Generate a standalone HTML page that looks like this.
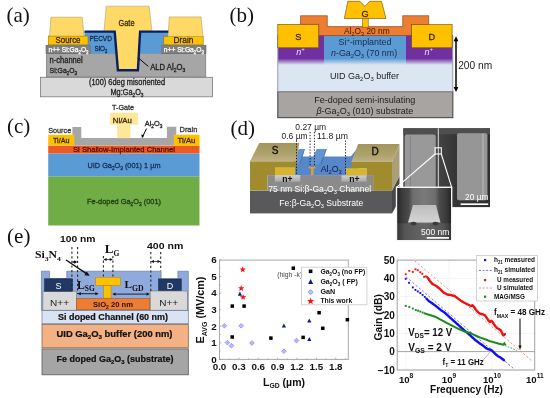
<!DOCTYPE html>
<html><head><meta charset="utf-8"><style>
html,body{margin:0;padding:0;background:#fff;width:550px;height:398px;overflow:hidden}
svg{display:block}
</style></head><body>
<svg width="550" height="398" viewBox="0 0 550 398">
<rect width="550" height="398" fill="#fff"/>
<text x="6.5" y="22" font-size="21" fill="#111" font-family='"Liberation Serif", "Times New Roman", serif'>(a)</text>
<rect x="40.5" y="77.3" width="172" height="19.5" fill="#D9D9D9" stroke="#7a7a7a" stroke-width="0.8"/>
<text x="127" y="85.3" font-size="8.2" fill="#222" font-family='"Liberation Sans", Arial, sans-serif' text-anchor="middle" textLength="76" lengthAdjust="spacingAndGlyphs" stroke="#222" stroke-width="0.3">(100) 6deg misoriented</text>
<text x="127" y="94.8" font-size="8.2" fill="#222" font-family='"Liberation Sans", Arial, sans-serif' text-anchor="middle" textLength="33" lengthAdjust="spacingAndGlyphs" stroke="#222" stroke-width="0.3">Mg:Ga<tspan dy="2.05" font-size="5.33">2</tspan><tspan dy="-2.05">O</tspan><tspan dy="2.05" font-size="5.33">3</tspan></text>
<rect x="46.3" y="53.5" width="159.5" height="23.4" fill="#A6A6A6" stroke="#6f6f6f" stroke-width="0.6"/>
<text x="49.6" y="63.4" font-size="8.2" fill="#222" font-family='"Liberation Sans", Arial, sans-serif' textLength="33" lengthAdjust="spacingAndGlyphs" stroke="#222" stroke-width="0.3">n-channel</text>
<text x="49.6" y="73.3" font-size="8.0" fill="#222" font-family='"Liberation Sans", Arial, sans-serif' textLength="27.5" lengthAdjust="spacingAndGlyphs" stroke="#222" stroke-width="0.3">Si:Ga<tspan dy="2.0" font-size="5.2">2</tspan><tspan dy="-2.0">O</tspan><tspan dy="2.0" font-size="5.2">3</tspan></text>
<polygon points="84.5,31.5 114.5,31.5 117.7,53.5 138,53.5 140,31.5 168,31.5 168,45 161.7,45 161.7,53.5 90.7,53.5 90.7,45 88,45 88,36 84.5,36" fill="#5B9BD5"/>
<rect x="46" y="45.2" width="44.7" height="8.5" fill="#7F7F7F" stroke="#5a5a5a" stroke-width="0.5"/>
<text x="48.5" y="52.3" font-size="6.8" fill="#fff" font-family='"Liberation Sans", Arial, sans-serif' textLength="40" lengthAdjust="spacingAndGlyphs" stroke="#fff" stroke-width="0.25">n++ Si:Ga<tspan dy="1.7" font-size="4.42">2</tspan><tspan dy="-1.7">O</tspan><tspan dy="1.7" font-size="4.42">3</tspan></text>
<rect x="48.2" y="36" width="39.8" height="8.8" fill="#FFC000" stroke="#8a6a00" stroke-width="0.5"/>
<text x="68" y="43.2" font-size="8.2" fill="#3a2a00" font-family='"Liberation Sans", Arial, sans-serif' text-anchor="middle" textLength="25" lengthAdjust="spacingAndGlyphs" stroke="#3a2a00" stroke-width="0.3">Source</text>
<polygon points="50.9,17.2 82.2,17.2 84,36 49.5,36" fill="#FFD966" stroke="#a09060" stroke-width="0.5" stroke-linejoin="miter"/>
<rect x="161.7" y="45.2" width="44.3" height="8.5" fill="#7F7F7F" stroke="#5a5a5a" stroke-width="0.5"/>
<text x="163.8" y="52.3" font-size="6.8" fill="#fff" font-family='"Liberation Sans", Arial, sans-serif' textLength="40" lengthAdjust="spacingAndGlyphs" stroke="#fff" stroke-width="0.25">n++ Si:Ga<tspan dy="1.7" font-size="4.42">2</tspan><tspan dy="-1.7">O</tspan><tspan dy="1.7" font-size="4.42">3</tspan></text>
<rect x="163.8" y="36.4" width="39.4" height="8.4" fill="#FFC000" stroke="#8a6a00" stroke-width="0.5"/>
<text x="183.5" y="43.4" font-size="8.2" fill="#3a2a00" font-family='"Liberation Sans", Arial, sans-serif' text-anchor="middle" textLength="20" lengthAdjust="spacingAndGlyphs" stroke="#3a2a00" stroke-width="0.3">Drain</text>
<polygon points="169.3,16.9 201,16.9 203,36.4 168,36.4" fill="#FFD966" stroke="#a09060" stroke-width="0.5" stroke-linejoin="miter"/>
<polygon points="106.2,6.2 149.1,6.2 152,31.5 140,31.5 138,70 118,70 114.5,31.5 104,31.5" fill="#FFD966" stroke="#a09060" stroke-width="0.5" stroke-linejoin="miter"/>
<polyline points="84.5,31.6 114.7,31.6 117.9,70.2 137.9,70.2 140.1,31.6 168.3,31.6" fill="none" stroke="#0B1F5E" stroke-width="2.4" stroke-linejoin="miter"/>
<text x="126.5" y="26.3" font-size="8.6" fill="#3a2a00" font-family='"Liberation Sans", Arial, sans-serif' text-anchor="middle" textLength="16" lengthAdjust="spacingAndGlyphs" stroke="#3a2a00" stroke-width="0.3">Gate</text>
<text x="100.7" y="41.2" font-size="7.6" fill="#0f2a55" font-family='"Liberation Sans", Arial, sans-serif' text-anchor="middle" textLength="22.5" lengthAdjust="spacingAndGlyphs" stroke="#0f2a55" stroke-width="0.3">PECVD</text>
<text x="100.9" y="50.6" font-size="7.6" fill="#0f2a55" font-family='"Liberation Sans", Arial, sans-serif' text-anchor="middle" textLength="13" lengthAdjust="spacingAndGlyphs" stroke="#0f2a55" stroke-width="0.3">SiO<tspan dy="1.9" font-size="4.94">2</tspan></text>
<line x1="139" y1="58.5" x2="148.3" y2="66.4" stroke="#000" stroke-width="1"/>
<text x="150.2" y="69.6" font-size="8.2" fill="#222" font-family='"Liberation Sans", Arial, sans-serif' textLength="35" lengthAdjust="spacingAndGlyphs" stroke="#222" stroke-width="0.3">ALD Al<tspan dy="2.05" font-size="5.33">2</tspan><tspan dy="-2.05">O</tspan><tspan dy="2.05" font-size="5.33">3</tspan></text>
<text x="229.5" y="22" font-size="21" fill="#111" font-family='"Liberation Serif", "Times New Roman", serif'>(b)</text>
<defs><linearGradient id="gpur" x1="0" y1="0" x2="0" y2="1"><stop offset="0" stop-color="#7030A0"/><stop offset="0.78" stop-color="#7030A0"/><stop offset="1" stop-color="#7030A0" stop-opacity="0"/></linearGradient><linearGradient id="gblu" x1="0" y1="0" x2="0" y2="1"><stop offset="0" stop-color="#5B9BD5"/><stop offset="0.78" stop-color="#5B9BD5"/><stop offset="1" stop-color="#5B9BD5" stop-opacity="0"/></linearGradient></defs>
<rect x="277.8" y="91.6" width="175" height="26" fill="#A8A4A2" stroke="#555" stroke-width="1.2"/>
<text x="314.2" y="102.5" font-size="9" fill="#222" font-family='"Liberation Sans", Arial, sans-serif'>Fe-doped semi-insulating</text>
<text x="316.4" y="113.5" font-size="9" fill="#222" font-family='"Liberation Sans", Arial, sans-serif'><tspan font-style="italic">β</tspan>-Ga<tspan dy="2.25" font-size="5.85">2</tspan><tspan dy="-2.25">O</tspan><tspan dy="2.25" font-size="5.85">3</tspan><tspan dy="-2.25"> (010) substrate</tspan></text>
<rect x="277.8" y="35.5" width="175" height="56.1" fill="#DCE6F2" stroke="#888" stroke-width="0.8"/>
<rect x="324" y="35.5" width="82" height="29.5" fill="url(#gblu)"/>
<rect x="278.2" y="35.5" width="45.8" height="29.5" fill="url(#gpur)"/>
<rect x="406" y="35.5" width="46.3" height="29.5" fill="url(#gpur)"/>
<text x="330.1" y="78.5" font-size="9" fill="#222" font-family='"Liberation Sans", Arial, sans-serif'>UID Ga<tspan dy="2.25" font-size="5.85">2</tspan><tspan dy="-2.25">O</tspan><tspan dy="2.25" font-size="5.85">3</tspan><tspan dy="-2.25"> buffer</tspan></text>
<text x="338.6" y="45.3" font-size="8.9" fill="#1a2a4a" font-family='"Liberation Sans", Arial, sans-serif'>Si<tspan dy="-3.38" font-size="5.79">+</tspan><tspan dy="3.38">-implanted</tspan></text>
<text x="331" y="55.6" font-size="8.9" fill="#1a2a4a" font-family='"Liberation Sans", Arial, sans-serif'><tspan font-style="italic">n</tspan>-Ga<tspan dy="2.23" font-size="5.79">2</tspan><tspan dy="-2.23">O</tspan><tspan dy="2.23" font-size="5.79">3</tspan><tspan dy="-2.23"> (70 nm)</tspan></text>
<polygon points="300.5,15.7 327.3,15.7 327.3,26.6 402.7,26.6 402.7,15.7 428.7,15.7 428.7,24.6 411.6,24.6 411.6,35.5 318.7,35.5 318.7,24.4 300.5,24.4" fill="#ED7D31" stroke="#7a3a10" stroke-width="0.6" stroke-linejoin="miter"/>
<rect x="277.8" y="24.4" width="40.9" height="23.4" fill="#FFC000" stroke="#6a4a00" stroke-width="0.6"/>
<rect x="411.6" y="24.6" width="40.5" height="23.2" fill="#FFC000" stroke="#6a4a00" stroke-width="0.6"/>
<text x="298.2" y="39.5" font-size="9.2" fill="#3a2a00" font-family='"Liberation Sans", Arial, sans-serif' text-anchor="middle" stroke="#3a2a00" stroke-width="0.3">S</text>
<text x="431.8" y="39.5" font-size="9.2" fill="#3a2a00" font-family='"Liberation Sans", Arial, sans-serif' text-anchor="middle" stroke="#3a2a00" stroke-width="0.3">D</text>
<text x="300.5" y="54.6" font-size="9" fill="#ece0f8" font-family='"Liberation Sans", Arial, sans-serif' text-anchor="middle" font-style="italic">n<tspan dy="-3.42" font-size="5.85">+</tspan></text>
<text x="428.8" y="54.6" font-size="9" fill="#ece0f8" font-family='"Liberation Sans", Arial, sans-serif' text-anchor="middle" font-style="italic">n<tspan dy="-3.42" font-size="5.85">+</tspan></text>
<text x="344" y="33.7" font-size="8.4" fill="#3a1a00" font-family='"Liberation Sans", Arial, sans-serif'>Al<tspan dy="2.1" font-size="5.46">2</tspan><tspan dy="-2.1">O</tspan><tspan dy="2.1" font-size="5.46">3</tspan><tspan dy="-2.1"> 20 nm</tspan></text>
<rect x="362.5" y="17.5" width="5.7" height="10" fill="#FFC000" stroke="#6a4a00" stroke-width="0.5"/>
<polygon points="347.8,1.3 359.9,1.3 365,6.4 369.5,1.3 381.5,1.3 386,18.5 344.3,18.5" fill="#FFC000" stroke="#6a4a00" stroke-width="0.6" stroke-linejoin="miter"/>
<text x="365" y="17.2" font-size="9.2" fill="#3a2a00" font-family='"Liberation Sans", Arial, sans-serif' text-anchor="middle" stroke="#3a2a00" stroke-width="0.3">G</text>
<line x1="456" y1="39.5" x2="456" y2="89" stroke="#000" stroke-width="1.5"/>
<polygon points="456,36.2 453.6,41.2 458.4,41.2" fill="#000"/>
<polygon points="456,92 453.6,87 458.4,87" fill="#000"/>
<text x="458.2" y="68.7" font-size="10.2" fill="#222" font-family='"Liberation Sans", Arial, sans-serif'>200 nm</text>
<text x="7" y="133" font-size="21" fill="#111" font-family='"Liberation Serif", "Times New Roman", serif'>(c)</text>
<rect x="48.2" y="176.3" width="151.3" height="49.2" fill="#70AD47"/>
<rect x="48.2" y="153.4" width="151.3" height="22.9" fill="#5B9BD5"/>
<rect x="48.2" y="145.6" width="151.3" height="7.8" fill="#EE5A24"/>
<text x="124" y="151.8" font-size="8" fill="#5a1000" font-family='"Liberation Sans", Arial, sans-serif' text-anchor="middle" textLength="102" lengthAdjust="spacingAndGlyphs" stroke="#5a1000" stroke-width="0.3">Si Shallow-Implanted Channel</text>
<text x="124" y="167.8" font-size="8" fill="#15305a" font-family='"Liberation Sans", Arial, sans-serif' text-anchor="middle" textLength="73" lengthAdjust="spacingAndGlyphs" stroke="#15305a" stroke-width="0.3">UID Ga<tspan dy="2.0" font-size="5.2">2</tspan><tspan dy="-2.0">O</tspan><tspan dy="2.0" font-size="5.2">3</tspan><tspan dy="-2.0"> (001) 1 µm</tspan></text>
<text x="124" y="203.7" font-size="8" fill="#1f3a10" font-family='"Liberation Sans", Arial, sans-serif' text-anchor="middle" textLength="74" lengthAdjust="spacingAndGlyphs" stroke="#1f3a10" stroke-width="0.3">Fe-doped Ga<tspan dy="2.0" font-size="5.2">2</tspan><tspan dy="-2.0">O</tspan><tspan dy="2.0" font-size="5.2">3</tspan><tspan dy="-2.0"> (001)</tspan></text>
<polygon points="72.4,126.9 81.3,126.9 81.3,138 166.9,138 166.9,126.7 176.3,126.7 176.3,145.6 72.4,145.6" fill="#A6A6A6"/>
<rect x="48.2" y="134.8" width="26.1" height="10.8" fill="#FFC000"/>
<rect x="173.8" y="134.7" width="25.7" height="11.1" fill="#FFC000"/>
<text x="61.2" y="142.8" font-size="8" fill="#3a2a00" font-family='"Liberation Sans", Arial, sans-serif' text-anchor="middle" textLength="16.5" lengthAdjust="spacingAndGlyphs" stroke="#3a2a00" stroke-width="0.3">Ti/Au</text>
<text x="186.5" y="142.6" font-size="8" fill="#3a2a00" font-family='"Liberation Sans", Arial, sans-serif' text-anchor="middle" textLength="17.8" lengthAdjust="spacingAndGlyphs" stroke="#3a2a00" stroke-width="0.3">Ti/Au</text>
<text x="48.2" y="132.6" font-size="8" fill="#333" font-family='"Liberation Sans", Arial, sans-serif' textLength="23" lengthAdjust="spacingAndGlyphs" stroke="#333" stroke-width="0.3">Source</text>
<text x="179.5" y="132.3" font-size="8" fill="#333" font-family='"Liberation Sans", Arial, sans-serif' textLength="17.8" lengthAdjust="spacingAndGlyphs" stroke="#333" stroke-width="0.3">Drain</text>
<rect x="117.2" y="124.4" width="13.3" height="13.8" fill="#FFE699"/>
<rect x="110.2" y="112.7" width="27.7" height="12" fill="#FFE699"/>
<text x="122.3" y="122.9" font-size="8" fill="#3a2a00" font-family='"Liberation Sans", Arial, sans-serif' text-anchor="middle" textLength="19" lengthAdjust="spacingAndGlyphs" stroke="#3a2a00" stroke-width="0.3">Ni/Au</text>
<text x="123" y="110.4" font-size="8" fill="#333" font-family='"Liberation Sans", Arial, sans-serif' text-anchor="middle" textLength="22" lengthAdjust="spacingAndGlyphs" stroke="#333" stroke-width="0.3">T-Gate</text>
<text x="144.8" y="125.5" font-size="8" fill="#222" font-family='"Liberation Sans", Arial, sans-serif' textLength="17.6" lengthAdjust="spacingAndGlyphs" stroke="#222" stroke-width="0.3">Al<tspan dy="2.0" font-size="5.2">2</tspan><tspan dy="-2.0">O</tspan><tspan dy="2.0" font-size="5.2">3</tspan></text>
<line x1="146.5" y1="128.6" x2="142.5" y2="137" stroke="#000" stroke-width="1"/>
<polygon points="142,138.2 141.3,134.5 144.2,135.6" fill="#000"/>
<text x="230.5" y="134.8" font-size="21" fill="#111" font-family='"Liberation Serif", "Times New Roman", serif'>(d)</text>
<defs><linearGradient id="stop" x1="0" y1="0" x2="0" y2="1"><stop offset="0" stop-color="#A3965C"/><stop offset="0.6" stop-color="#AEA26C"/><stop offset="1" stop-color="#BDB283"/></linearGradient><linearGradient id="nplus" x1="0" y1="0" x2="0" y2="1"><stop offset="0" stop-color="#d0d0d0"/><stop offset="1" stop-color="#a8a8a8"/></linearGradient></defs>
<rect x="250" y="190.6" width="142" height="22.8" fill="#59595B"/>
<polygon points="392,190.6 399.5,176 399.5,200 392,213.4" fill="#48484a"/>
<rect x="267.5" y="175.1" width="106" height="15.5" fill="#8B8B8B"/>
<polygon points="295,156.5 352,156.5 352,175.3 295,175.3" fill="#5787C9"/>
<polygon points="298.6,148.9 304.5,148.9 299.8,164.5 292.8,164.5" fill="#6493D4"/>
<line x1="304.5" y1="149.2" x2="299.6" y2="164.5" stroke="#3f6fb5" stroke-width="0.9"/>
<polygon points="316.7,148.9 326.3,148.9 323.6,156.5 318,164.5 309.7,164.5" fill="#6493D4"/>
<line x1="326.3" y1="149.2" x2="321" y2="164.5" stroke="#3f6fb5" stroke-width="0.9"/>
<polygon points="345,156.5 350.6,156.8 356.6,149.3 359,149.3 359,175.3 345,175.3" fill="#5787C9"/>
<polygon points="250,161.2 296.6,161.2 296.6,167.7 275,167.7 275,175.1 267.5,175.1 267.5,190.6 250,190.6" fill="#A08C2E"/>
<polygon points="250,161.2 296.6,161.2 299.2,143 259.3,143" fill="url(#stop)"/>
<polygon points="351.3,162.1 392,162.1 392,190.8 373.2,190.8 373.2,175.3 366.4,175.3 366.4,168.2 351.3,168.2" fill="#A08C2E"/>
<polygon points="351.3,162.1 392,162.1 399.5,144 358.1,144" fill="url(#stop)"/>
<polygon points="392,162.1 399.5,144 399.5,176 392,190.8" fill="#A9A07A"/>
<rect x="275" y="167.7" width="20.1" height="7.4" fill="#D8B52A"/>
<rect x="346" y="168.2" width="20.4" height="7" fill="#D8B52A"/>
<rect x="274.8" y="175.1" width="25.5" height="6.6" fill="url(#nplus)"/>
<rect x="341.5" y="175.3" width="25" height="6.4" fill="url(#nplus)"/>
<text x="287.5" y="181.8" font-size="8.6" fill="#111" font-family='"Liberation Sans", Arial, sans-serif' font-weight="bold" text-anchor="middle">n+</text>
<text x="354.3" y="181.8" font-size="8.6" fill="#111" font-family='"Liberation Sans", Arial, sans-serif' font-weight="bold" text-anchor="middle">n+</text>
<polygon points="308.5,166.7 315.5,166.7 315.5,168.6 313.5,168.6 313.5,175 311,175 311,168.6 308.5,168.6" fill="#E0A030"/>
<text x="320.7" y="172" font-size="8.8" fill="#0c1a40" font-family='"Liberation Sans", Arial, sans-serif'>Al<tspan dy="2.2" font-size="5.72">2</tspan><tspan dy="-2.2">O</tspan><tspan dy="2.2" font-size="5.72">3</tspan></text>
<text x="275.2" y="154.3" font-size="10" fill="#111" font-family='"Liberation Sans", Arial, sans-serif' text-anchor="middle" stroke="#111" stroke-width="0.35">S</text>
<text x="375" y="154.7" font-size="10" fill="#111" font-family='"Liberation Sans", Arial, sans-serif' text-anchor="middle" stroke="#111" stroke-width="0.35">D</text>
<text x="268.3" y="191.8" font-size="8.6" fill="#fff" font-family='"Liberation Sans", Arial, sans-serif'>75 nm Si:β-Ga<tspan dy="2.15" font-size="5.59">2</tspan><tspan dy="-2.15">O</tspan><tspan dy="2.15" font-size="5.59">3</tspan><tspan dy="-2.15"> Channel</tspan></text>
<text x="279.2" y="206.1" font-size="8.65" fill="#fff" font-family='"Liberation Sans", Arial, sans-serif'>Fe:β-Ga<tspan dy="2.16" font-size="5.62">2</tspan><tspan dy="-2.16">O</tspan><tspan dy="2.16" font-size="5.62">3</tspan><tspan dy="-2.16"> Substrate</tspan></text>
<line x1="296.5" y1="140.5" x2="296.5" y2="175" stroke="#111" stroke-width="0.9" stroke-dasharray="1.3,1.6"/>
<line x1="310.1" y1="132" x2="310.1" y2="166" stroke="#111" stroke-width="0.9" stroke-dasharray="1.3,1.6"/>
<line x1="314.4" y1="132" x2="314.4" y2="166" stroke="#111" stroke-width="0.9" stroke-dasharray="1.3,1.6"/>
<line x1="345.5" y1="140.5" x2="345.5" y2="175" stroke="#111" stroke-width="0.9" stroke-dasharray="1.3,1.6"/>
<text x="295.3" y="129.5" font-size="8.5" fill="#222" font-family='"Liberation Sans", Arial, sans-serif'>0.27 µm</text>
<text x="281.5" y="139.3" font-size="8.5" fill="#222" font-family='"Liberation Sans", Arial, sans-serif'>0.6 µm</text>
<text x="317.1" y="139.3" font-size="8.7" fill="#222" font-family='"Liberation Sans", Arial, sans-serif'>11.8 µm</text>
<defs><filter id="noise" x="0" y="0" width="100%" height="100%"><feTurbulence type="fractalNoise" baseFrequency="0.9" numOctaves="2" seed="4" result="n"/><feColorMatrix in="n" type="matrix" values="0 0 0 0 0.5  0 0 0 0 0.5  0 0 0 0 0.5  0 0 0 0.35 0" result="g"/><feComposite in="g" in2="SourceGraphic" operator="in" result="m"/><feBlend in="SourceGraphic" in2="m" mode="overlay"/></filter><linearGradient id="gap" x1="0" y1="0" x2="1" y2="0"><stop offset="0" stop-color="#3a3a3a"/><stop offset="0.3" stop-color="#4a4a4a"/><stop offset="0.6" stop-color="#363636"/><stop offset="1" stop-color="#2e2e2e"/></linearGradient><linearGradient id="ins" x1="0" y1="0" x2="1" y2="0"><stop offset="0" stop-color="#222"/><stop offset="0.1" stop-color="#3a3a3a"/><stop offset="0.22" stop-color="#4a4a4a"/><stop offset="0.3" stop-color="#6e6e6e"/><stop offset="0.5" stop-color="#7a7a7a"/><stop offset="0.7" stop-color="#6e6e6e"/><stop offset="0.78" stop-color="#4a4a4a"/><stop offset="0.9" stop-color="#3a3a3a"/><stop offset="1" stop-color="#222"/></linearGradient><linearGradient id="insb" x1="0" y1="0" x2="1" y2="0"><stop offset="0" stop-color="#333"/><stop offset="0.15" stop-color="#555"/><stop offset="0.5" stop-color="#666"/><stop offset="0.85" stop-color="#555"/><stop offset="1" stop-color="#333"/></linearGradient><linearGradient id="tg" x1="0" y1="0" x2="0" y2="1"><stop offset="0" stop-color="#bdbdbd"/><stop offset="1" stop-color="#d4d4d4"/></linearGradient></defs>
<rect x="403.3" y="128.3" width="86.7" height="78.8" fill="url(#gap)"/>
<rect x="403.3" y="128.3" width="86.7" height="6" fill="#4e4e4e"/>
<g filter="url(#noise)">
<rect x="404.7" y="134.6" width="31" height="72.5" rx="2" fill="#989898"/>
<rect x="457" y="133.3" width="30.4" height="67" rx="2" fill="#969696"/>
</g>
<line x1="410.5" y1="136" x2="410.5" y2="207" stroke="#7c7c7c" stroke-width="0.8"/>
<line x1="438.3" y1="128.3" x2="438.3" y2="207.1" stroke="#e0e0e0" stroke-width="1"/>
<line x1="483" y1="133.5" x2="483" y2="200" stroke="#c0c0c0" stroke-width="0.9"/>
<line x1="460.6" y1="204.2" x2="488.2" y2="204.2" stroke="#fff" stroke-width="1.7"/>
<text x="465.1" y="200.3" font-size="8.3" fill="#fff" font-family='"Liberation Sans", Arial, sans-serif'>20 µm</text>
<rect x="396.5" y="187.3" width="55.2" height="53.4" fill="url(#insb)"/>
<rect x="396.5" y="187.3" width="55.2" height="36" fill="url(#ins)"/>
<polygon points="413,205 436,205 440.5,222.5 408,222.5" fill="url(#tg)"/>
<ellipse cx="413.5" cy="223.5" rx="3" ry="1.8" fill="#3a3a3a"/><ellipse cx="435.5" cy="223.5" rx="3" ry="1.8" fill="#3a3a3a"/>
<rect x="396.5" y="187.3" width="55.2" height="53.4" fill="none" stroke="#f4f4f4" stroke-width="1.4"/>
<line x1="435.1" y1="154" x2="396.5" y2="187.3" stroke="#fff" stroke-width="1.1"/>
<line x1="441.3" y1="154" x2="451.7" y2="187.3" stroke="#fff" stroke-width="1.1"/>
<rect x="435.1" y="147.8" width="6.2" height="6.2" fill="none" stroke="#fff" stroke-width="1.1"/>
<line x1="426.7" y1="237.9" x2="449" y2="237.9" stroke="#fff" stroke-width="1.7"/>
<text x="421" y="234.6" font-size="8.5" fill="#fff" font-family='"Liberation Sans", Arial, sans-serif'>500 nm</text>
<text x="7.1" y="243.3" font-size="21" fill="#111" font-family='"Liberation Serif", "Times New Roman", serif'>(e)</text>
<rect x="42" y="348.9" width="146.3" height="25.9" fill="#A5A5A5" stroke="#5a5a5a" stroke-width="0.8"/>
<rect x="42" y="324.6" width="146.3" height="23.2" fill="#F4B183" stroke="#7a5a40" stroke-width="0.7"/>
<rect x="42" y="310.2" width="146.3" height="13.5" fill="#DAE3F3" stroke="#6a7a98" stroke-width="0.7"/>
<text x="113" y="319.6" font-size="8.8" fill="#111" font-family='"Liberation Sans", Arial, sans-serif' font-weight="bold" text-anchor="middle" textLength="110" lengthAdjust="spacingAndGlyphs" stroke="#111" stroke-width="0.2">Si doped Channel (60 nm)</text>
<text x="114.5" y="336.9" font-size="8.9" fill="#111" font-family='"Liberation Sans", Arial, sans-serif' font-weight="bold" text-anchor="middle" textLength="116" lengthAdjust="spacingAndGlyphs" stroke="#111" stroke-width="0.2">UID Ga<tspan dy="2.23" font-size="5.79">2</tspan><tspan dy="-2.23">O</tspan><tspan dy="2.23" font-size="5.79">3</tspan><tspan dy="-2.23"> buffer (200  nm)</tspan></text>
<text x="115" y="362" font-size="8.8" fill="#111" font-family='"Liberation Sans", Arial, sans-serif' font-weight="bold" text-anchor="middle" textLength="117" lengthAdjust="spacingAndGlyphs" stroke="#111" stroke-width="0.2">Fe doped Ga<tspan dy="2.2" font-size="5.72">2</tspan><tspan dy="-2.2">O</tspan><tspan dy="2.2" font-size="5.72">3</tspan><tspan dy="-2.2"> (substrate)</tspan></text>
<polygon points="41.4,271.2 49.6,271.2 49.6,278.5 66.8,278.5 66.8,271.2 161.1,271.2 161.1,278.9 177.9,278.9 177.9,271.2 188.3,271.2 188.3,310.2 41.4,310.2" fill="#8FAADC" stroke="#5a6e9a" stroke-width="0.6" stroke-linejoin="miter"/>
<rect x="42.9" y="291.2" width="33.5" height="19" fill="#D9D9D9" stroke="#777" stroke-width="0.6"/>
<rect x="150.2" y="291" width="37.1" height="19.2" fill="#D9D9D9" stroke="#777" stroke-width="0.6"/>
<text x="59.6" y="305.5" font-size="9.4" fill="#222" font-family='"Liberation Sans", Arial, sans-serif' text-anchor="middle" textLength="19" lengthAdjust="spacingAndGlyphs">N++</text>
<text x="168.7" y="305.5" font-size="9.4" fill="#222" font-family='"Liberation Sans", Arial, sans-serif' text-anchor="middle" textLength="19" lengthAdjust="spacingAndGlyphs">N++</text>
<rect x="76.4" y="298.5" width="73.4" height="11.3" fill="#ED7D31" stroke="#9a5020" stroke-width="0.5"/>
<text x="113" y="307.3" font-size="8" fill="#2a1000" font-family='"Liberation Sans", Arial, sans-serif' font-weight="bold" text-anchor="middle" textLength="40" lengthAdjust="spacingAndGlyphs">SiO<tspan dy="2.0" font-size="5.2">2</tspan><tspan dy="-2.0"> 20 nm</tspan></text>
<rect x="44.5" y="278.8" width="28" height="12.4" fill="#203864" stroke="#10203a" stroke-width="0.5"/>
<rect x="158.5" y="278.9" width="22.8" height="11.5" fill="#203864" stroke="#10203a" stroke-width="0.5"/>
<text x="58.5" y="288.8" font-size="9" fill="#fff" font-family='"Liberation Sans", Arial, sans-serif' text-anchor="middle">S</text>
<text x="169.9" y="288.8" font-size="9" fill="#fff" font-family='"Liberation Sans", Arial, sans-serif' text-anchor="middle">D</text>
<rect x="95.7" y="277.2" width="24.8" height="8.3" fill="#FFC000" stroke="#a07800" stroke-width="0.4"/>
<rect x="103.7" y="285.5" width="7.3" height="12.6" fill="#FFC000" stroke="#a07800" stroke-width="0.4"/>
<line x1="71.9" y1="247" x2="71.9" y2="291" stroke="#262626" stroke-width="1.1" stroke-dasharray="2.2,2.4"/>
<line x1="77.6" y1="247" x2="77.6" y2="294" stroke="#262626" stroke-width="1.1" stroke-dasharray="2.2,2.4"/>
<line x1="103.4" y1="256" x2="103.4" y2="277" stroke="#262626" stroke-width="1.1" stroke-dasharray="2.2,2.4"/>
<line x1="112.9" y1="256" x2="112.9" y2="277" stroke="#262626" stroke-width="1.1" stroke-dasharray="2.2,2.4"/>
<line x1="150.8" y1="252" x2="150.8" y2="293" stroke="#262626" stroke-width="1.1" stroke-dasharray="2.2,2.4"/>
<line x1="160.7" y1="252" x2="160.7" y2="271" stroke="#262626" stroke-width="1.1" stroke-dasharray="2.2,2.4"/>
<line x1="79.6" y1="293.7" x2="96.6" y2="293.7" stroke="#111" stroke-width="0.9"/>
<polygon points="98.6,293.7 95.39999999999999,292.09999999999997 95.39999999999999,295.3" fill="#111"/>
<polygon points="77.6,293.7 80.8,292.09999999999997 80.8,295.3" fill="#111"/>
<line x1="114.3" y1="294.1" x2="147.8" y2="294.1" stroke="#111" stroke-width="0.9"/>
<polygon points="149.8,294.1 146.60000000000002,292.5 146.60000000000002,295.70000000000005" fill="#111"/>
<polygon points="112.3,294.1 115.5,292.5 115.5,295.70000000000005" fill="#111"/>
<line x1="73.9" y1="262" x2="75.6" y2="262" stroke="#111" stroke-width="0.7"/>
<polygon points="77.6,262 74.39999999999999,260.4 74.39999999999999,263.6" fill="#111"/>
<polygon points="71.9,262 75.10000000000001,260.4 75.10000000000001,263.6" fill="#111"/>
<line x1="105.4" y1="259.5" x2="110.9" y2="259.5" stroke="#111" stroke-width="0.7"/>
<polygon points="112.9,259.5 109.7,257.9 109.7,261.1" fill="#111"/>
<polygon points="103.4,259.5 106.60000000000001,257.9 106.60000000000001,261.1" fill="#111"/>
<line x1="152.8" y1="261.5" x2="158.7" y2="261.5" stroke="#111" stroke-width="0.7"/>
<polygon points="160.7,261.5 157.5,259.9 157.5,263.1" fill="#111"/>
<polygon points="150.8,261.5 154.0,259.9 154.0,263.1" fill="#111"/>
<line x1="66" y1="260" x2="86.5" y2="273.6" stroke="#111" stroke-width="1.4"/>
<polygon points="89.7,275.7 84.4,275.3 86.8,271.6" fill="#111"/>
<text x="34.9" y="258.2" font-size="10.5" fill="#111" font-family='"Liberation Serif", "Times New Roman", serif' font-weight="bold" textLength="26" lengthAdjust="spacingAndGlyphs">Si<tspan dy="2.62" font-size="6.83">3</tspan><tspan dy="-2.62">N</tspan><tspan dy="2.62" font-size="6.83">4</tspan></text>
<text x="60" y="241.5" font-size="9.8" fill="#111" font-family='"Liberation Sans", Arial, sans-serif' font-weight="bold" textLength="35.5" lengthAdjust="spacingAndGlyphs">100 nm</text>
<text x="147" y="248.5" font-size="9.8" fill="#111" font-family='"Liberation Sans", Arial, sans-serif' font-weight="bold" textLength="36.3" lengthAdjust="spacingAndGlyphs">400 nm</text>
<text x="104.8" y="253.1" font-size="13" fill="#111" font-family='"Liberation Serif", "Times New Roman", serif' font-weight="bold">L<tspan dy="2.73" font-size="7.54">G</tspan></text>
<text x="76.9" y="288.8" font-size="11.8" fill="#111" font-family='"Liberation Serif", "Times New Roman", serif' font-weight="bold">L<tspan dy="2.01" font-size="7.43">SG</tspan></text>
<text x="124.5" y="287.6" font-size="11.2" fill="#111" font-family='"Liberation Serif", "Times New Roman", serif' font-weight="bold">L<tspan dy="2.91" font-size="7.73">GD</tspan></text>
<rect x="219.5" y="260.1" width="128.8" height="99.29999999999995" fill="none" stroke="#a8a8a8" stroke-width="1"/>
<text x="216.6" y="362.8" font-size="9.8" fill="#111" font-family='"Liberation Sans", Arial, sans-serif' font-weight="bold" text-anchor="end">0</text>
<line x1="219.5" y1="359.4" x2="221.3" y2="359.4" stroke="#999" stroke-width="0.7"/>
<line x1="219.5" y1="351.10999999999996" x2="220.7" y2="351.10999999999996" stroke="#999" stroke-width="0.6"/>
<text x="216.6" y="346.22" font-size="9.8" fill="#111" font-family='"Liberation Sans", Arial, sans-serif' font-weight="bold" text-anchor="end">1</text>
<line x1="219.5" y1="342.82" x2="221.3" y2="342.82" stroke="#999" stroke-width="0.7"/>
<line x1="219.5" y1="334.53" x2="220.7" y2="334.53" stroke="#999" stroke-width="0.6"/>
<text x="216.6" y="329.64" font-size="9.8" fill="#111" font-family='"Liberation Sans", Arial, sans-serif' font-weight="bold" text-anchor="end">2</text>
<line x1="219.5" y1="326.24" x2="221.3" y2="326.24" stroke="#999" stroke-width="0.7"/>
<line x1="219.5" y1="317.95" x2="220.7" y2="317.95" stroke="#999" stroke-width="0.6"/>
<text x="216.6" y="313.06" font-size="9.8" fill="#111" font-family='"Liberation Sans", Arial, sans-serif' font-weight="bold" text-anchor="end">3</text>
<line x1="219.5" y1="309.65999999999997" x2="221.3" y2="309.65999999999997" stroke="#999" stroke-width="0.7"/>
<line x1="219.5" y1="301.36999999999995" x2="220.7" y2="301.36999999999995" stroke="#999" stroke-width="0.6"/>
<text x="216.6" y="296.48" font-size="9.8" fill="#111" font-family='"Liberation Sans", Arial, sans-serif' font-weight="bold" text-anchor="end">4</text>
<line x1="219.5" y1="293.08" x2="221.3" y2="293.08" stroke="#999" stroke-width="0.7"/>
<line x1="219.5" y1="284.78999999999996" x2="220.7" y2="284.78999999999996" stroke="#999" stroke-width="0.6"/>
<text x="216.6" y="279.9" font-size="9.8" fill="#111" font-family='"Liberation Sans", Arial, sans-serif' font-weight="bold" text-anchor="end">5</text>
<line x1="219.5" y1="276.5" x2="221.3" y2="276.5" stroke="#999" stroke-width="0.7"/>
<line x1="219.5" y1="268.21" x2="220.7" y2="268.21" stroke="#999" stroke-width="0.6"/>
<text x="216.6" y="263.32" font-size="9.8" fill="#111" font-family='"Liberation Sans", Arial, sans-serif' font-weight="bold" text-anchor="end">6</text>
<line x1="219.5" y1="259.91999999999996" x2="221.3" y2="259.91999999999996" stroke="#999" stroke-width="0.7"/>
<text x="219.5" y="370.2" font-size="9.8" fill="#111" font-family='"Liberation Sans", Arial, sans-serif' font-weight="bold" text-anchor="middle">0.0</text>
<line x1="219.5" y1="359.4" x2="219.5" y2="357.59999999999997" stroke="#999" stroke-width="0.7"/>
<line x1="229.19" y1="359.4" x2="229.19" y2="358.2" stroke="#999" stroke-width="0.6"/>
<text x="238.88" y="370.2" font-size="9.8" fill="#111" font-family='"Liberation Sans", Arial, sans-serif' font-weight="bold" text-anchor="middle">0.3</text>
<line x1="238.88" y1="359.4" x2="238.88" y2="357.59999999999997" stroke="#999" stroke-width="0.7"/>
<line x1="248.57" y1="359.4" x2="248.57" y2="358.2" stroke="#999" stroke-width="0.6"/>
<text x="258.26" y="370.2" font-size="9.8" fill="#111" font-family='"Liberation Sans", Arial, sans-serif' font-weight="bold" text-anchor="middle">0.6</text>
<line x1="258.26" y1="359.4" x2="258.26" y2="357.59999999999997" stroke="#999" stroke-width="0.7"/>
<line x1="267.95" y1="359.4" x2="267.95" y2="358.2" stroke="#999" stroke-width="0.6"/>
<text x="277.64" y="370.2" font-size="9.8" fill="#111" font-family='"Liberation Sans", Arial, sans-serif' font-weight="bold" text-anchor="middle">0.9</text>
<line x1="277.64" y1="359.4" x2="277.64" y2="357.59999999999997" stroke="#999" stroke-width="0.7"/>
<line x1="287.33" y1="359.4" x2="287.33" y2="358.2" stroke="#999" stroke-width="0.6"/>
<text x="297.02" y="370.2" font-size="9.8" fill="#111" font-family='"Liberation Sans", Arial, sans-serif' font-weight="bold" text-anchor="middle">1.2</text>
<line x1="297.02" y1="359.4" x2="297.02" y2="357.59999999999997" stroke="#999" stroke-width="0.7"/>
<line x1="306.71" y1="359.4" x2="306.71" y2="358.2" stroke="#999" stroke-width="0.6"/>
<text x="316.4" y="370.2" font-size="9.8" fill="#111" font-family='"Liberation Sans", Arial, sans-serif' font-weight="bold" text-anchor="middle">1.5</text>
<line x1="316.4" y1="359.4" x2="316.4" y2="357.59999999999997" stroke="#999" stroke-width="0.7"/>
<line x1="326.09" y1="359.4" x2="326.09" y2="358.2" stroke="#999" stroke-width="0.6"/>
<text x="335.78" y="370.2" font-size="9.8" fill="#111" font-family='"Liberation Sans", Arial, sans-serif' font-weight="bold" text-anchor="middle">1.8</text>
<line x1="335.78" y1="359.4" x2="335.78" y2="357.59999999999997" stroke="#999" stroke-width="0.7"/>
<line x1="345.46999999999997" y1="359.4" x2="345.46999999999997" y2="358.2" stroke="#999" stroke-width="0.6"/>
<text x="263" y="385.5" font-size="10.5" fill="#111" font-family='"Liberation Sans", Arial, sans-serif' font-weight="bold">L<tspan dy="2.62" font-size="6.83">GD</tspan><tspan dy="-2.62"> (µm)</tspan></text>
<text transform="translate(204,343.5) rotate(-90)" font-size="10.8" font-weight="bold" fill="#111" font-family='"Liberation Sans", Arial, sans-serif'>E<tspan dy="2.7" font-size="7.02">AVG</tspan><tspan dy="-2.7"> (MV/cm)</tspan></text>
<rect x="230.55" y="304.35" width="3.5" height="3.5" fill="#000"/>
<rect x="242.35" y="304.35" width="3.5" height="3.5" fill="#000"/>
<rect x="230.45" y="335.25" width="3.5" height="3.5" fill="#000"/>
<rect x="269.15" y="336.35" width="3.5" height="3.5" fill="#000"/>
<rect x="291.55" y="266.45" width="3.5" height="3.5" fill="#000"/>
<rect x="301.35" y="335.65" width="3.5" height="3.5" fill="#000"/>
<rect x="317.35" y="310.95" width="3.5" height="3.5" fill="#000"/>
<rect x="321.05" y="326.55" width="3.5" height="3.5" fill="#000"/>
<rect x="345.65" y="317.95" width="3.5" height="3.5" fill="#000"/>
<polygon points="283.9,323.38 281.79999999999995,327.58 286.0,327.58" fill="#0a1a8a"/>
<polygon points="309.3,318.38 307.2,322.58 311.40000000000003,322.58" fill="#0a1a8a"/>
<polygon points="309.3,336.88 307.2,341.08 311.40000000000003,341.08" fill="#0a1a8a"/>
<polygon points="224.4,323.5 226.70000000000002,325.8 224.4,328.1 222.1,325.8" fill="#d8d8ff" stroke="#8a8aff" stroke-width="0.9" stroke-linejoin="miter"/>
<line x1="222.7" y1="325.8" x2="226.10000000000002" y2="325.8" stroke="#9a9aff" stroke-width="0.5"/>
<line x1="224.4" y1="324.1" x2="224.4" y2="327.5" stroke="#9a9aff" stroke-width="0.5"/>
<polygon points="241.1,323.5 243.4,325.8 241.1,328.1 238.79999999999998,325.8" fill="#d8d8ff" stroke="#8a8aff" stroke-width="0.9" stroke-linejoin="miter"/>
<line x1="239.39999999999998" y1="325.8" x2="242.8" y2="325.8" stroke="#9a9aff" stroke-width="0.5"/>
<line x1="241.1" y1="324.1" x2="241.1" y2="327.5" stroke="#9a9aff" stroke-width="0.5"/>
<polygon points="227.4,340.3 229.70000000000002,342.6 227.4,344.90000000000003 225.1,342.6" fill="#d8d8ff" stroke="#8a8aff" stroke-width="0.9" stroke-linejoin="miter"/>
<line x1="225.7" y1="342.6" x2="229.10000000000002" y2="342.6" stroke="#9a9aff" stroke-width="0.5"/>
<line x1="227.4" y1="340.90000000000003" x2="227.4" y2="344.3" stroke="#9a9aff" stroke-width="0.5"/>
<polygon points="231.4,343.4 233.70000000000002,345.7 231.4,348.0 229.1,345.7" fill="#d8d8ff" stroke="#8a8aff" stroke-width="0.9" stroke-linejoin="miter"/>
<line x1="229.7" y1="345.7" x2="233.10000000000002" y2="345.7" stroke="#9a9aff" stroke-width="0.5"/>
<line x1="231.4" y1="344.0" x2="231.4" y2="347.4" stroke="#9a9aff" stroke-width="0.5"/>
<polygon points="251.9,340.7 254.20000000000002,343 251.9,345.3 249.6,343" fill="#d8d8ff" stroke="#8a8aff" stroke-width="0.9" stroke-linejoin="miter"/>
<line x1="250.2" y1="343" x2="253.60000000000002" y2="343" stroke="#9a9aff" stroke-width="0.5"/>
<line x1="251.9" y1="341.3" x2="251.9" y2="344.7" stroke="#9a9aff" stroke-width="0.5"/>
<polygon points="296.5,338.3 298.8,340.6 296.5,342.90000000000003 294.2,340.6" fill="#d8d8ff" stroke="#8a8aff" stroke-width="0.9" stroke-linejoin="miter"/>
<line x1="294.8" y1="340.6" x2="298.2" y2="340.6" stroke="#9a9aff" stroke-width="0.5"/>
<line x1="296.5" y1="338.90000000000003" x2="296.5" y2="342.3" stroke="#9a9aff" stroke-width="0.5"/>
<polygon points="283.9,348.9 286.2,351.2 283.9,353.5 281.59999999999997,351.2" fill="#d8d8ff" stroke="#8a8aff" stroke-width="0.9" stroke-linejoin="miter"/>
<line x1="282.2" y1="351.2" x2="285.59999999999997" y2="351.2" stroke="#9a9aff" stroke-width="0.5"/>
<line x1="283.9" y1="349.5" x2="283.9" y2="352.9" stroke="#9a9aff" stroke-width="0.5"/>
<polygon points="239.9,291.48 237.8,295.68 242.0,295.68" fill="#0a1a8a"/>
<polygon points="242.7,266.2 243.51,268.38 245.84,268.48 244.02,269.93 244.64,272.17 242.7,270.89 240.76,272.17 241.38,269.93 239.56,268.48 241.89,268.38" fill="#ff1010"/>
<polygon points="241.2,285.0 242.01,287.18 244.34,287.28 242.52,288.73 243.14,290.97 241.2,289.69 239.26,290.97 239.88,288.73 238.06,287.28 240.39,287.18" fill="#ff1010"/>
<polygon points="243.1,293.9 243.91,296.08 246.24,296.18 244.42,297.63 245.04,299.87 243.1,298.59 241.16,299.87 241.78,297.63 239.96,296.18 242.29,296.08" fill="#ff1010"/>
<text x="277.3" y="277.3" font-size="7" fill="#444" font-family='"Liberation Sans", Arial, sans-serif' textLength="24.9" lengthAdjust="spacingAndGlyphs">(high -k)</text>
<rect x="301.6" y="267.2" width="65.3" height="37.6" fill="#fff" stroke="#c8c8c8" stroke-width="0.8"/>
<rect x="308.8" y="269.5" width="3.6" height="3.6" fill="#000"/>
<polygon points="310.6,279.0 308.1,284.0 313.1,284.0" fill="#0a1a8a"/>
<polygon points="310.6,289.7 313.1,292.2 310.6,294.7 308.1,292.2" fill="#d8d8ff" stroke="#8a8aff" stroke-width="0.9" stroke-linejoin="miter"/>
<line x1="308.70000000000005" y1="292.2" x2="312.5" y2="292.2" stroke="#9a9aff" stroke-width="0.5"/>
<line x1="310.6" y1="290.3" x2="310.6" y2="294.09999999999997" stroke="#9a9aff" stroke-width="0.5"/>
<polygon points="310.6,297.5 311.51,299.94 314.12,300.06 312.08,301.68 312.77,304.19 310.6,302.75 308.43,304.19 309.12,301.68 307.08,300.06 309.69,299.94" fill="#ff1010"/>
<text x="320.4" y="273.8" font-size="7.2" fill="#111" font-family='"Liberation Sans", Arial, sans-serif' font-weight="bold" textLength="45" lengthAdjust="spacingAndGlyphs">Ga<tspan dy="1.8" font-size="4.68">2</tspan><tspan dy="-1.8">O</tspan><tspan dy="1.8" font-size="4.68">3</tspan><tspan dy="-1.8"> (no FP)</tspan></text>
<text x="320.4" y="284.4" font-size="7.2" fill="#111" font-family='"Liberation Sans", Arial, sans-serif' font-weight="bold" textLength="37.5" lengthAdjust="spacingAndGlyphs">Ga<tspan dy="1.8" font-size="4.68">2</tspan><tspan dy="-1.8">O</tspan><tspan dy="1.8" font-size="4.68">3</tspan><tspan dy="-1.8"> ( FP)</tspan></text>
<text x="320.4" y="294.2" font-size="7.2" fill="#111" font-family='"Liberation Sans", Arial, sans-serif' font-weight="bold">GaN</text>
<text x="320.4" y="303.1" font-size="7.2" fill="#111" font-family='"Liberation Sans", Arial, sans-serif' font-weight="bold" textLength="31.8" lengthAdjust="spacingAndGlyphs">This work</text>
<line x1="406.1" y1="260.1" x2="406.1" y2="370.0" stroke="#d8d8d8" stroke-width="0.6" stroke-dasharray="1,1"/>
<line x1="449.0" y1="260.1" x2="449.0" y2="370.0" stroke="#d8d8d8" stroke-width="0.6" stroke-dasharray="1,1"/>
<line x1="491.9" y1="260.1" x2="491.9" y2="370.0" stroke="#d8d8d8" stroke-width="0.6" stroke-dasharray="1,1"/>
<line x1="397.2" y1="278.4" x2="534.7" y2="278.4" stroke="#dcdcdc" stroke-width="0.6" stroke-dasharray="1,1"/>
<line x1="397.2" y1="296.7" x2="534.7" y2="296.7" stroke="#dcdcdc" stroke-width="0.6" stroke-dasharray="1,1"/>
<line x1="397.2" y1="315.0" x2="534.7" y2="315.0" stroke="#dcdcdc" stroke-width="0.6" stroke-dasharray="1,1"/>
<line x1="397.2" y1="333.3" x2="534.7" y2="333.3" stroke="#dcdcdc" stroke-width="0.6" stroke-dasharray="1,1"/>
<line x1="397.2" y1="369.9" x2="534.7" y2="369.9" stroke="#dcdcdc" stroke-width="0.6" stroke-dasharray="1,1"/>
<line x1="397.2" y1="351.6" x2="534.7" y2="351.6" stroke="#9a9a9a" stroke-width="0.9"/>
<rect x="397.2" y="260.1" width="137.50000000000006" height="109.89999999999998" fill="none" stroke="#a0a0a0" stroke-width="1"/>
<text x="394.8" y="263.7" font-size="10" fill="#111" font-family='"Liberation Sans", Arial, sans-serif' font-weight="bold" text-anchor="end">50</text>
<text x="394.8" y="282.0" font-size="10" fill="#111" font-family='"Liberation Sans", Arial, sans-serif' font-weight="bold" text-anchor="end">40</text>
<text x="394.8" y="300.3" font-size="10" fill="#111" font-family='"Liberation Sans", Arial, sans-serif' font-weight="bold" text-anchor="end">30</text>
<text x="394.8" y="318.6" font-size="10" fill="#111" font-family='"Liberation Sans", Arial, sans-serif' font-weight="bold" text-anchor="end">20</text>
<text x="394.8" y="336.9" font-size="10" fill="#111" font-family='"Liberation Sans", Arial, sans-serif' font-weight="bold" text-anchor="end">10</text>
<text x="394.8" y="355.2" font-size="10" fill="#111" font-family='"Liberation Sans", Arial, sans-serif' font-weight="bold" text-anchor="end">0</text>
<text x="394.8" y="373.5" font-size="10" fill="#111" font-family='"Liberation Sans", Arial, sans-serif' font-weight="bold" text-anchor="end">−10</text>
<text x="406.1" y="382.8" font-size="9.6" font-weight="bold" fill="#111" text-anchor="middle" font-family='"Liberation Sans", Arial, sans-serif'>10<tspan dy="-4.6" font-size="6.6">8</tspan></text>
<text x="449.0" y="382.8" font-size="9.6" font-weight="bold" fill="#111" text-anchor="middle" font-family='"Liberation Sans", Arial, sans-serif'>10<tspan dy="-4.6" font-size="6.6">9</tspan></text>
<text x="491.9" y="382.8" font-size="9.6" font-weight="bold" fill="#111" text-anchor="middle" font-family='"Liberation Sans", Arial, sans-serif'>10<tspan dy="-4.6" font-size="6.6">10</tspan></text>
<text x="534.8" y="382.8" font-size="9.6" font-weight="bold" fill="#111" text-anchor="middle" font-family='"Liberation Sans", Arial, sans-serif'>10<tspan dy="-4.6" font-size="6.6">11</tspan></text>
<text x="430" y="392.6" font-size="10.1" fill="#111" font-family='"Liberation Sans", Arial, sans-serif' font-weight="bold">Frequency (Hz)</text>
<text transform="translate(381.6,340.5) rotate(-90)" font-size="10.3" font-weight="bold" fill="#111" font-family='"Liberation Sans", Arial, sans-serif'>Gain (dB)</text>
<polyline points="414.68,260.79 416.83,262.62 418.97,264.45 421.12,266.28 423.26,268.11 425.41,269.94 427.55,271.77 429.7,273.6 431.84,275.43 433.99,277.26 436.13,279.09 438.28,280.92 440.42,282.75 442.57,284.58 444.71,286.41 446.86,288.24 449.0,290.07 451.15,291.9 453.29,293.73 455.44,295.56 457.58,297.39 459.73,299.22 461.87,301.05 464.02,302.88 466.16,304.71 468.31,306.54 470.45,308.37 472.6,310.2 474.74,312.03 476.89,313.86 479.03,315.69 481.18,317.52 483.32,319.35 485.47,321.18 487.61,323.01 489.76,324.84 491.9,326.67 494.05,328.5 496.19,330.33 498.34,332.16 500.48,333.99 502.63,335.82 504.77,337.65 506.92,339.48 509.06,341.31 511.21,343.14 513.35,344.97 515.5,346.8 517.64,348.63 519.79,350.46 521.93,352.29 524.08,354.12 526.22,355.95 528.37,357.78 530.51,359.61 532.66,361.44" fill="none" stroke="#f08080" stroke-width="0.9" stroke-dasharray="2.2,2"/>
<polyline points="406.1,276.89 408.25,278.72 410.39,280.55 412.54,282.38 414.68,284.21 416.83,286.04 418.97,287.87 421.12,289.7 423.26,291.53 425.41,293.36 427.55,295.19 429.7,297.02 431.84,298.85 433.99,300.68 436.13,302.51 438.28,304.34 440.42,306.17 442.57,308.0 444.71,309.83 446.86,311.66 449.0,313.49 451.15,315.32 453.29,317.15 455.44,318.98 457.58,320.81 459.73,322.64 461.87,324.47 464.02,326.3 466.16,328.13 468.31,329.96 470.45,331.79 472.6,333.62 474.74,335.45 476.89,337.28 479.03,339.11 481.18,340.94 483.32,342.77 485.47,344.6 487.61,346.43 489.76,348.26 491.9,350.09 494.05,351.92 496.19,353.75 498.34,355.58 500.48,357.41 502.63,359.24 504.77,361.07 506.92,362.9 509.06,364.73 511.21,366.56 513.35,368.39" fill="none" stroke="#6060e0" stroke-width="0.9" stroke-dasharray="2.2,2"/>
<rect x="404.75" y="273.35" width="1.9" height="1.9" fill="#ee1111"/>
<rect x="408.35" y="269.85" width="1.9" height="1.9" fill="#ee1111"/>
<rect x="411.85" y="270.95" width="1.9" height="1.9" fill="#ee1111"/>
<rect x="414.55" y="268.35" width="1.9" height="1.9" fill="#ee1111"/>
<rect x="416.85" y="269.35" width="1.9" height="1.9" fill="#ee1111"/>
<rect x="419.35" y="271.35" width="1.9" height="1.9" fill="#ee1111"/>
<rect x="421.35" y="272.85" width="1.9" height="1.9" fill="#ee1111"/>
<rect x="423.15" y="275.85" width="1.9" height="1.9" fill="#ee1111"/>
<rect x="424.95" y="275.45" width="1.9" height="1.9" fill="#ee1111"/>
<polyline points="427.4,277.3 427.9,278.04 428.4,278.78 428.9,279.52 429.4,280.26 429.9,281.0 430.4,281.64 430.9,282.2 431.4,282.77 431.9,283.33 432.4,283.9 432.9,284.17 433.4,284.44 433.9,284.71 434.4,284.98 434.9,285.25 435.4,285.52 435.9,285.79 436.4,286.14 436.9,286.53 437.4,286.93 437.9,287.32 438.4,287.72 438.9,288.11 439.4,288.51 439.9,288.9 440.4,289.39 440.9,289.87 441.4,290.36 441.9,290.85 442.4,291.33 442.9,291.82 443.4,292.31 443.9,292.71 444.4,292.98 444.9,293.25 445.4,293.52 445.9,293.79 446.4,294.06 446.9,294.33 447.4,294.6 447.9,294.64 448.4,294.68 448.9,294.72 449.4,294.75 449.9,294.79 450.4,294.92 450.9,295.07 451.4,295.22 451.9,295.37 452.4,295.52 452.9,295.67 453.4,295.82 453.9,295.97 454.4,296.12 454.9,296.27 455.4,296.61 455.9,296.99 456.4,297.37 456.9,297.76 457.4,298.14 457.9,298.52 458.4,298.89 458.9,299.26 459.4,299.63 459.9,299.99 460.4,300.36 460.9,300.73 461.4,301.03 461.9,301.32 462.4,301.61 462.9,301.89 463.4,302.18 463.9,302.47 464.4,302.75 464.9,303.04 465.4,303.3 465.9,303.55 466.4,303.8 466.9,304.05 467.4,304.3 467.9,304.55 468.4,304.8 468.9,305.05 469.4,305.3 469.9,305.55 470.4,305.8 470.9,306.05 471.4,305.86 471.9,305.56 472.4,305.26 472.9,305.65 473.4,306.22 473.9,306.79 474.4,307.5 474.9,308.25 475.4,309.0 475.9,309.75 476.4,310.34 476.9,310.89 477.4,311.44 477.9,311.99 478.4,312.42 478.9,312.82 479.4,313.22 479.9,313.62 480.4,313.79 480.9,313.91 481.4,314.03 481.9,314.14 482.4,314.26 482.9,314.38 483.4,314.56 483.9,314.76 484.4,314.96 484.9,315.16 485.4,315.8 485.9,316.55 486.4,317.3 486.9,318.05 487.4,318.8 487.9,319.55 488.4,320.3 488.9,321.05 489.4,321.52 489.9,321.92 490.4,321.65 490.9,321.22 491.4,320.79 491.9,321.23 492.4,321.9 492.9,322.57 493.4,323.3 493.9,324.05 494.4,324.8 494.9,325.55 495.4,326.16 495.9,326.74 496.4,327.31 496.9,327.88 497.4,328.2 497.9,328.45 498.4,328.7 498.9,328.95 499.4,329.32 499.9,329.72 500.4,330.12 500.9,330.52 501.4,331.56 501.9,332.76 502.4,333.67 502.9,334.5 503.4,335.33 503.9,335.1 504.4,334.6 504.9,334.1" fill="none" stroke="#ee1111" stroke-width="2.4" stroke-linejoin="round" stroke-linecap="round"/>
<rect x="404.75" y="277.85" width="1.9" height="1.9" fill="#1010ee"/>
<rect x="408.05" y="281.85" width="1.9" height="1.9" fill="#1010ee"/>
<rect x="411.85" y="286.45" width="1.9" height="1.9" fill="#1010ee"/>
<rect x="414.45" y="288.95" width="1.9" height="1.9" fill="#1010ee"/>
<rect x="416.85" y="290.45" width="1.9" height="1.9" fill="#1010ee"/>
<rect x="419.35" y="292.05" width="1.9" height="1.9" fill="#1010ee"/>
<rect x="421.65" y="293.95" width="1.9" height="1.9" fill="#1010ee"/>
<rect x="423.85" y="295.95" width="1.9" height="1.9" fill="#1010ee"/>
<polyline points="426.5,298.69 427.0,299.22 427.5,299.74 428.0,300.27 428.5,300.79 429.0,301.17 429.5,301.5 430.0,301.83 430.5,302.17 431.0,302.5 431.5,302.83 432.0,303.19 432.5,303.56 433.0,303.93 433.5,304.29 434.0,304.66 434.5,305.03 435.0,305.39 435.5,305.76 436.0,306.13 436.5,306.53 437.0,306.94 437.5,307.36 438.0,307.77 438.5,308.18 439.0,308.6 439.5,309.01 440.0,309.42 440.5,309.83 441.0,310.2 441.5,310.53 442.0,310.87 442.5,311.2 443.0,311.53 443.5,311.87 444.0,312.2 444.5,312.53 445.0,312.87 445.5,313.29 446.0,313.78 446.5,314.27 447.0,314.75 447.5,315.24 448.0,315.73 448.5,316.21 449.0,316.7 449.5,317.14 450.0,317.58 450.5,318.02 451.0,318.47 451.5,318.91 452.0,319.35 452.5,319.79 453.0,320.23 453.5,320.68 454.0,321.12 454.5,321.56 455.0,322.0 455.5,322.45 456.0,322.9 456.5,323.35 457.0,323.8 457.5,324.25 458.0,324.7 458.5,325.15 459.0,325.6 459.5,326.05 460.0,326.5 460.5,326.95 461.0,327.4 461.5,327.85 462.0,328.3 462.5,328.75 463.0,329.2 463.5,329.65 464.0,330.1 464.5,330.55 465.0,331.0 465.5,331.42 466.0,331.84 466.5,332.26 467.0,332.68 467.5,333.1 468.0,333.52 468.5,333.94 469.0,334.36 469.5,334.78 470.0,335.2 470.5,335.66 471.0,336.12 471.5,336.58 472.0,337.04 472.5,337.5 473.0,337.96 473.5,338.42 474.0,338.88 474.5,339.34 475.0,339.8 475.5,340.18 476.0,340.56 476.5,340.94 477.0,341.32 477.5,341.7 478.0,342.08 478.5,342.46 479.0,342.84 479.5,343.22 480.0,343.6 480.5,343.93 481.0,344.27 481.5,344.6 482.0,344.93 482.5,345.27 483.0,345.6 483.5,346.02 484.0,346.43 484.5,346.85 485.0,347.27 485.5,347.68 486.0,348.1 486.5,348.35 487.0,348.6 487.5,348.85 488.0,349.1 488.5,349.23 489.0,349.35 489.5,349.48 490.0,349.6 490.5,349.85 491.0,350.1 491.5,350.35 492.0,350.6 492.5,351.1 493.0,351.6 493.5,352.1 494.0,352.6 494.5,353.1 495.0,353.6 495.5,354.1 496.0,354.6 496.5,355.0 497.0,355.4 497.5,355.8 498.0,356.2 498.5,356.45 499.0,356.7 499.5,356.95 500.0,357.2 500.5,357.57 501.0,357.95 501.5,358.32 502.0,358.7 502.5,359.07 503.0,359.45 503.5,359.83 504.0,360.2" fill="none" stroke="#1010ee" stroke-width="2.4" stroke-linejoin="round" stroke-linecap="round"/>
<rect x="404.75" y="304.95" width="1.9" height="1.9" fill="#1a8a1a"/>
<rect x="408.35" y="306.05" width="1.9" height="1.9" fill="#1a8a1a"/>
<rect x="411.85" y="307.55" width="1.9" height="1.9" fill="#1a8a1a"/>
<rect x="414.85" y="309.05" width="1.9" height="1.9" fill="#1a8a1a"/>
<rect x="417.15" y="309.75" width="1.9" height="1.9" fill="#1a8a1a"/>
<rect x="419.35" y="310.55" width="1.9" height="1.9" fill="#1a8a1a"/>
<rect x="421.65" y="311.55" width="1.9" height="1.9" fill="#1a8a1a"/>
<polyline points="424.5,313.29 425.0,313.5 425.5,313.66 426.0,313.81 426.5,313.97 427.0,314.12 427.5,314.27 428.0,314.43 428.5,314.59 429.0,314.74 429.5,314.9 430.0,315.05 430.5,315.21 431.0,315.36 431.5,315.52 432.0,315.67 432.5,315.83 433.0,315.98 433.5,316.13 434.0,316.29 434.5,316.45 435.0,316.6 435.5,316.87 436.0,317.14 436.5,317.41 437.0,317.68 437.5,317.95 438.0,318.22 438.5,318.49 439.0,318.76 439.5,319.03 440.0,319.3 440.5,319.57 441.0,319.84 441.5,320.11 442.0,320.38 442.5,320.65 443.0,320.92 443.5,321.19 444.0,321.46 444.5,321.73 445.0,322.0 445.5,322.26 446.0,322.52 446.5,322.78 447.0,323.04 447.5,323.3 448.0,323.56 448.5,323.82 449.0,324.08 449.5,324.34 450.0,324.6 450.5,324.86 451.0,325.12 451.5,325.38 452.0,325.64 452.5,325.9 453.0,326.16 453.5,326.42 454.0,326.68 454.5,326.94 455.0,327.2 455.5,327.43 456.0,327.66 456.5,327.89 457.0,328.12 457.5,328.35 458.0,328.58 458.5,328.81 459.0,329.04 459.5,329.27 460.0,329.5 460.5,329.73 461.0,329.96 461.5,330.19 462.0,330.42 462.5,330.65 463.0,330.88 463.5,331.11 464.0,331.34 464.5,331.57 465.0,331.8 465.5,331.9 466.0,332.0 466.5,332.1 467.0,332.2 467.5,332.3 468.0,332.4 468.5,332.5 469.0,332.6 469.5,332.7 470.0,332.8 470.5,333.05 471.0,333.3 471.5,333.55 472.0,333.8 472.5,334.05 473.0,334.3 473.5,334.55 474.0,334.8 474.5,335.05 475.0,335.3 475.5,335.52 476.0,335.74 476.5,335.96 477.0,336.18 477.5,336.4 478.0,336.62 478.5,336.84 479.0,337.06 479.5,337.28 480.0,337.5 480.5,337.67 481.0,337.84 481.5,338.01 482.0,338.18 482.5,338.35 483.0,338.52 483.5,338.69 484.0,338.86 484.5,339.03 485.0,339.2 485.5,339.4 486.0,339.6 486.5,339.8 487.0,340.0 487.5,340.2 488.0,340.4 488.5,340.6 489.0,340.8 489.5,341.0 490.0,341.2 490.5,341.34 491.0,341.48 491.5,341.62 492.0,341.76 492.5,341.9 493.0,342.04 493.5,342.18 494.0,342.32 494.5,342.46 495.0,342.6 495.5,342.74 496.0,342.88 496.5,343.02 497.0,343.16 497.5,343.3 498.0,343.44 498.5,343.58 499.0,343.72 499.5,343.86 500.0,344.0 500.5,344.09 501.0,344.17 501.5,344.26 502.0,344.34 502.5,344.43 503.0,344.51 503.5,344.6" fill="none" stroke="#1a8a1a" stroke-width="2.0" stroke-linejoin="round" stroke-linecap="round"/>
<polygon points="504.5,341.5 502,345.2 506.5,345.2" fill="#1a8a1a"/>
<polyline points="505,345.5 517,350.5" fill="none" stroke="#1a8a1a" stroke-width="0.8" stroke-dasharray="1.5,1.5"/>
<text x="408.3" y="336.2" font-size="10.3" fill="#111" font-family='"Liberation Sans", Arial, sans-serif' font-weight="bold" textLength="43.9" lengthAdjust="spacingAndGlyphs">V<tspan dy="2.27" font-size="7.0">DS</tspan><tspan dy="-2.27">= 12 V</tspan></text>
<text x="408.3" y="351.2" font-size="10.3" fill="#111" font-family='"Liberation Sans", Arial, sans-serif' font-weight="bold" textLength="43.2" lengthAdjust="spacingAndGlyphs">V<tspan dy="2.27" font-size="7.0">GS</tspan><tspan dy="-2.27"> = 2 V</tspan></text>
<text x="442.5" y="365.2" font-size="8.5" fill="#111" font-family='"Liberation Sans", Arial, sans-serif' font-weight="bold" textLength="41.3" lengthAdjust="spacingAndGlyphs">f<tspan dy="2.12" font-size="5.53">T</tspan><tspan dy="-2.12"> = 11 GHz</tspan></text>
<line x1="483" y1="360.3" x2="490.4" y2="351.7" stroke="#888" stroke-width="0.6"/>
<text x="494" y="315.4" font-size="8.5" fill="#111" font-family='"Liberation Sans", Arial, sans-serif' font-weight="bold" textLength="51" lengthAdjust="spacingAndGlyphs">f<tspan dy="2.12" font-size="5.53">MAX</tspan><tspan dy="-2.12"> = 48 GHz</tspan></text>
<line x1="520" y1="318.5" x2="520" y2="346" stroke="#111" stroke-width="1.1"/>
<polygon points="520,350 518.4,345.5 521.6,345.5" fill="#111"/>
<rect x="476.4" y="255.4" width="61" height="45.6" fill="#fff" stroke="#c8c8c8" stroke-width="0.8"/>
<rect x="484" y="259" width="2.2" height="2.2" fill="#1010ee"/>
<line x1="479" y1="270.4" x2="493" y2="270.4" stroke="#6060e0" stroke-width="0.9" stroke-dasharray="2,1.6"/>
<rect x="484" y="279" width="2.2" height="2.2" fill="#ee1111"/>
<line x1="479" y1="288" x2="493" y2="288" stroke="#f08080" stroke-width="0.9" stroke-dasharray="2,1.6"/>
<rect x="484" y="295.6" width="2.2" height="2.2" fill="#1a8a1a"/>
<text x="494" y="262" font-size="6.9" fill="#111" font-family='"Liberation Sans", Arial, sans-serif' font-weight="bold" textLength="41" lengthAdjust="spacingAndGlyphs">h<tspan dy="1.73" font-size="4.49">21</tspan><tspan dy="-1.73"> measured</tspan></text>
<text x="494" y="272" font-size="6.9" fill="#111" font-family='"Liberation Sans", Arial, sans-serif' font-weight="bold" textLength="41" lengthAdjust="spacingAndGlyphs">h<tspan dy="1.73" font-size="4.49">21</tspan><tspan dy="-1.73"> simulated</tspan></text>
<text x="497" y="282" font-size="6.9" fill="#111" font-family='"Liberation Sans", Arial, sans-serif' font-weight="bold" textLength="36" lengthAdjust="spacingAndGlyphs">U measured</text>
<text x="497" y="290" font-size="6.9" fill="#111" font-family='"Liberation Sans", Arial, sans-serif' font-weight="bold" textLength="36" lengthAdjust="spacingAndGlyphs">U simulated</text>
<text x="494" y="298.6" font-size="6.9" fill="#111" font-family='"Liberation Sans", Arial, sans-serif' font-weight="bold" textLength="31" lengthAdjust="spacingAndGlyphs">MAG/MSG</text>
</svg></body></html>
